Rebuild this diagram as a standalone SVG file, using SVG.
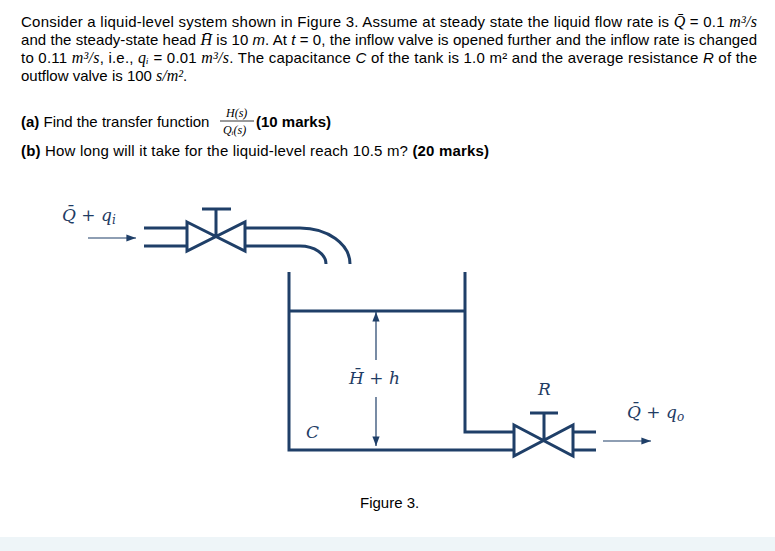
<svg xmlns="http://www.w3.org/2000/svg" width="775" height="551" viewBox="0 0 775 551">
<style>
.t{font-family:"Liberation Sans",Arial,sans-serif;font-size:15px;fill:#000}
.s{font-family:"Liberation Serif",serif;font-style:italic;font-size:16px}
.m{font-family:"DejaVu Serif","Liberation Serif",serif;font-style:italic;fill:#1f3c64;font-size:17px}
.p{stroke:#1f3f68;stroke-width:3;fill:none}
.a{stroke:#1f3f68;stroke-width:1.2;fill:none}
</style>
<defs><marker id="ar" markerWidth="8" markerHeight="6" refX="8" refY="3" orient="auto"><path d="M0,0L8,3L0,6z" fill="#1f3f68"/></marker></defs>
<rect width="775" height="551" fill="#fff"/>
<rect y="537" width="775" height="14" fill="#eef5f8"/>
<text class="t" x="21" y="27" textLength="736" lengthAdjust="spacing">Consider a liquid-level system shown in Figure 3. Assume at steady state the liquid flow rate is <tspan class="s">Q̄</tspan> = 0.1 <tspan class="s">m³/s</tspan></text>
<text class="t" x="21" y="45" textLength="736" lengthAdjust="spacing">and the steady-state head <tspan class="s">H̄</tspan> is 10 <tspan font-style="italic">m</tspan>. At <tspan font-style="italic">t</tspan> = 0, the inflow valve is opened further and the inflow rate is changed</text>
<text class="t" x="21" y="63" textLength="736" lengthAdjust="spacing">to 0.11 <tspan class="s">m³/s</tspan>, i.e., <tspan class="s">qᵢ</tspan> = 0.01 <tspan class="s">m³/s</tspan>. The capacitance <tspan font-style="italic">C</tspan> of the tank is 1.0 m² and the average resistance <tspan font-style="italic">R</tspan> of the</text>
<text class="t" x="21" y="81">outflow valve is 100 <tspan class="s">s/m²</tspan>.</text>
<text class="t" x="21" y="127"><tspan font-weight="bold">(a)</tspan>  Find the transfer function</text>
<text x="226" y="117" font-family="Liberation Serif" font-style="italic" font-size="12">H(s)</text>
<line x1="220" y1="121" x2="254" y2="121" stroke="#000" stroke-width="0.8"/>
<text x="223" y="134" font-family="Liberation Serif" font-style="italic" font-size="12">Qᵢ(s)</text>
<text class="t" x="256" y="127" font-weight="bold">(10 marks)</text>
<text class="t" x="21" y="156" textLength="468" lengthAdjust="spacing"><tspan font-weight="bold">(b)</tspan>  How long will it take for the liquid-level reach 10.5 m? <tspan font-weight="bold">(20 marks)</tspan></text>
<g id="inlet">
<path class="p" d="M144,228H187M144,246H187M187,222L245,251V222L187,251Z M216,236.5V209M202,209H231 M245,228H300A50,36 0 0 1 350,264 M245,246H300A26,18 0 0 1 326,264"/>
</g>
<g id="tank">
<path class="p" d="M289,272V450H514 M465,272V432H514 M289,311H465"/>
</g>
<g id="outlet">
<path class="p" d="M514,425L573,456V425L514,456Z M544,440.5V413M530,413H558 M573,432H596M573,450H596"/>
</g>
<g id="connectors">
<line class="a" x1="88" y1="238" x2="136" y2="238" marker-end="url(#ar)"/>
<line class="a" x1="603" y1="441" x2="651" y2="441" marker-end="url(#ar)"/>
<line class="a" x1="376" y1="360" x2="376" y2="312" marker-end="url(#ar)"/>
<line class="a" x1="376" y1="397" x2="376" y2="446" marker-end="url(#ar)"/>
</g>
<text class="m" x="62" y="221">Q̄ + q<tspan font-size="12" dy="3">i</tspan></text>
<text class="m" x="349" y="384">H̄ + h</text>
<text class="m" x="306" y="438" font-style="normal">C</text>
<text class="m" x="538" y="395">R</text>
<text class="m" x="627" y="418">Q̄ + q<tspan font-size="12" dy="3">o</tspan></text>
<text class="t" x="360" y="508">Figure 3.</text>
</svg>
